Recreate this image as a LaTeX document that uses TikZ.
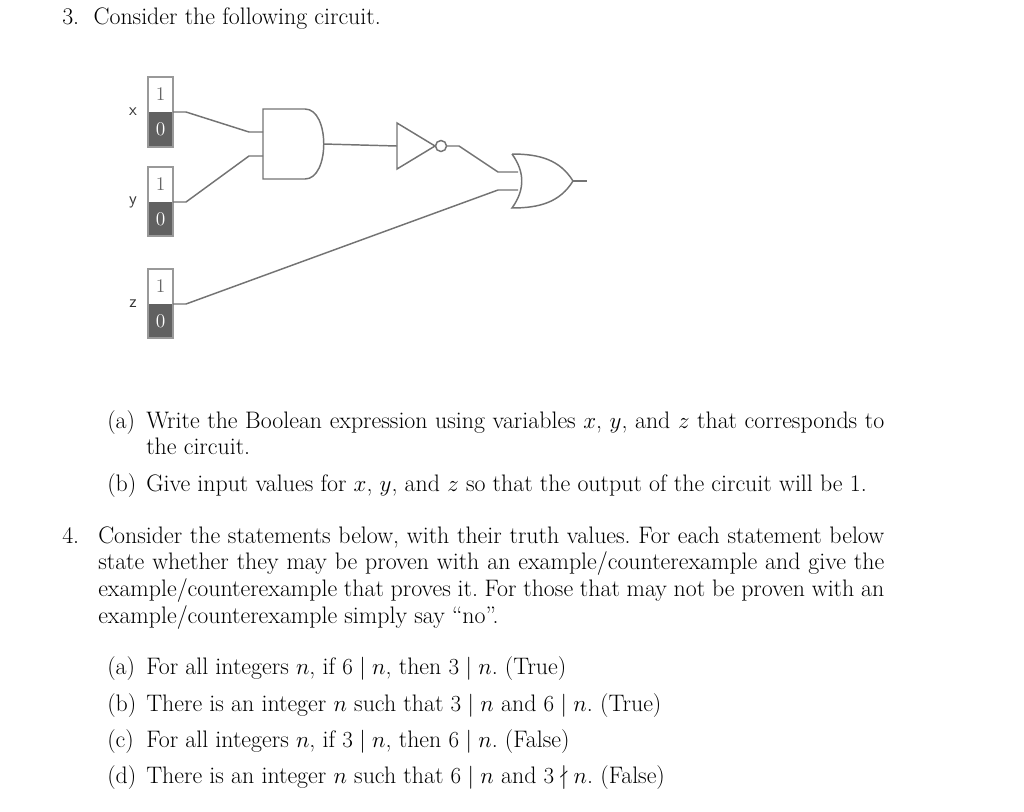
\documentclass[tikz,border=0pt]{standalone}
\usepackage{amssymb}
\usetikzlibrary{calc}
\begin{document}
\frenchspacing
\begin{tikzpicture}[x=0.75pt,y=-0.75pt,
  wire/.style={draw=black!55,line width=1.1pt},
  gate/.style={draw=black!55,line width=1.1pt},
  sw/.style={draw=black!40,line width=0.8pt},
  lab/.style={font=\sffamily\fontsize{13}{15}\selectfont,text=black!80},
  txt/.style={anchor=base west,inner sep=0pt,font=\fontsize{17.9}{21}\selectfont}]
\useasboundingbox (0,0) rectangle (1024,811);
% switches
\foreach \n/\t/\m/\b in {x/77/112/147, y/167/202/236, z/269/304/338}{
  \fill[white] (148,\t) rectangle (173,\m);
  \fill[black!62] (148,\m) rectangle (173,\b);
  \draw[sw] (148,\t) rectangle (173,\b);
  \node[font=\fontsize{14.5}{15}\selectfont,text=black!60] at (160.5,{(\t+\m)/2}) {1};
  \node[font=\fontsize{14.5}{15}\selectfont,text=white] at (160.5,{(\m+\b)/2}) {0};
  \node[lab] (l\n) at (133,\m) {\n};
  \coordinate (s\n) at (173,\m);
}
% AND gate
\draw[gate] (263,109) -- (305,109) .. controls (330,109) and (330,179) .. (305,179) -- (263,179) -- cycle;
\coordinate (a1) at (263,132); \coordinate (a2) at (263,156); \coordinate (ao) at (323.5,144);
% NOT
\draw[gate] (397,123) -- (435,146) -- (397,169) -- cycle;
\draw[gate] (441,146) circle[radius=5.5];
\coordinate (ni) at (397,146); \coordinate (no) at (446.5,146);
% OR
\draw[gate] (512,154) .. controls (540,154) and (560,160) .. (573,181)
  .. controls (560,202) and (540,208) .. (512,208)
  .. controls (525,190) and (525,172) .. (512,154);
\coordinate (o1) at (518,172); \coordinate (o2) at (518,190); \coordinate (oo) at (573,181);
% wires
\draw[wire] (sx) -- (186,112) -- (249,132) -- (a1);
\draw[wire] (sy) -- (186,202) -- (249,156) -- (a2);
\draw[wire] (ao) -- (ni);
\draw[wire] (no) -- (459,146) -- (498,172) -- (o1);
\draw[wire] (sz) -- (186,304) -- (498,190) -- (o2);
\draw[wire] (oo) -- (587,181);
% text
\node[txt] (t3) at (62,24) {3.\ \ Consider the following circuit.};
\node[txt] (a3) at (107,428) {(a)};
\node[txt] at (146,428) {\hbox to 553.5pt{Write the Boolean expression using variables $x$, $y$, and $z$ that corresponds to}};
\node[txt] at (146,454) {the circuit.};
\node[txt] (b3) at (107,491) {(b)};
\node[txt] at (146,491) {Give input values for $x$, $y$, and $z$ so that the output of the circuit will be 1.};
\node[txt] (t4) at (62,543) {4.};
\node[txt] at (98,543) {\hbox to 589.5pt{Consider the statements below, with their truth values. For each statement below}};
\node[txt] at (98,569.5) {\hbox to 589.5pt{state whether they may be proven with an example/counterexample and give the}};
\node[txt] at (98,596) {\hbox to 589.5pt{example/counterexample that proves it. For those that may not be proven with an}};
\node[txt] at (98,623) {example/counterexample simply say ``no''.};
\node[txt] at (107,674) {(a)};
\node[txt] at (146,674) {For all integers $n$, if $6\mid n$, then $3\mid n$. (True)};
\node[txt] at (107,711) {(b)};
\node[txt] at (146,711) {There is an integer $n$ such that $3\mid n$ and $6\mid n$. (True)};
\node[txt] at (107,747) {(c)};
\node[txt] at (146,747) {For all integers $n$, if $3\mid n$, then $6\mid n$. (False)};
\node[txt] at (107,783) {(d)};
\node[txt] at (146,783) {There is an integer $n$ such that $6\mid n$ and $3\nmid n$. (False)};
\end{tikzpicture}
\end{document}
